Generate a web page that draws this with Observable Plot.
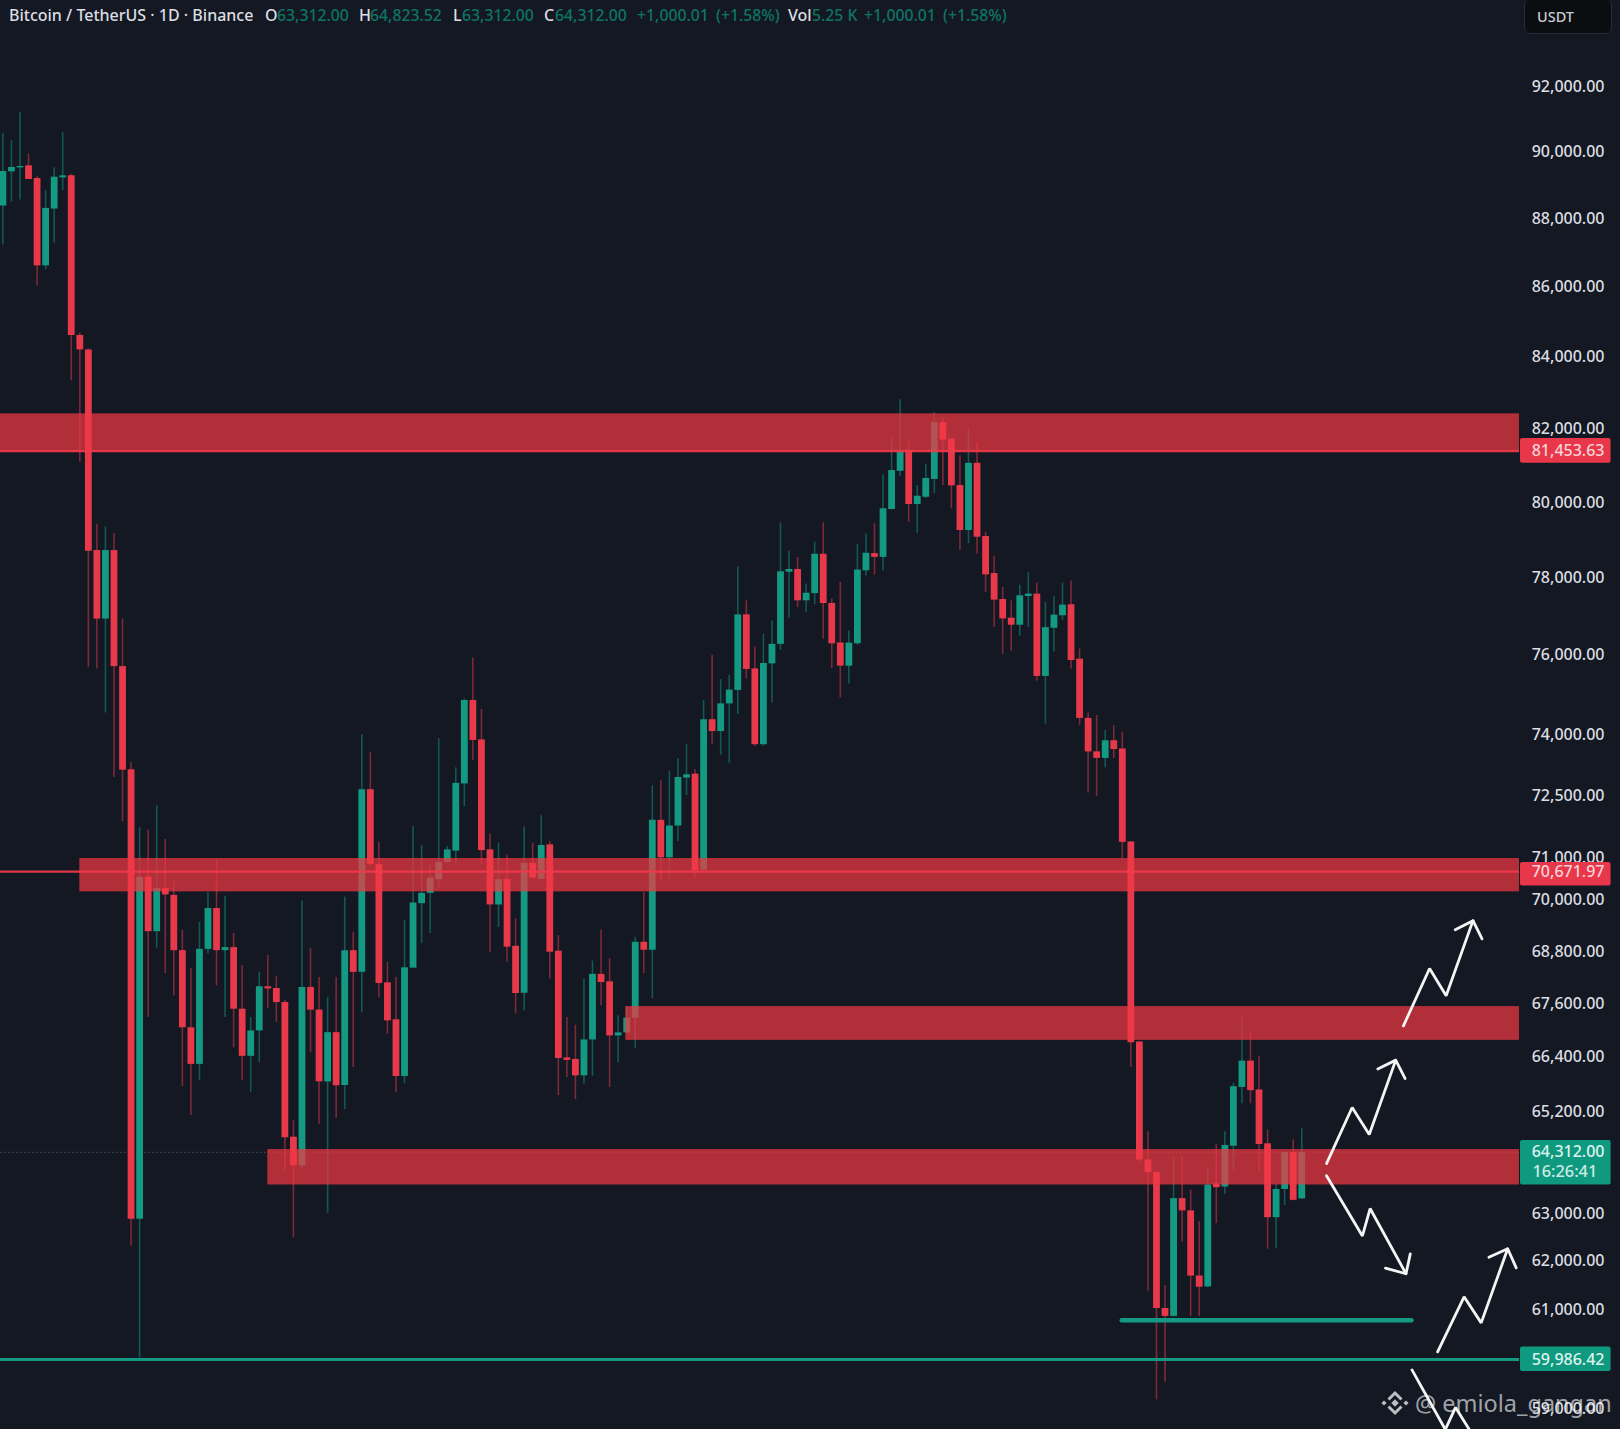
<!DOCTYPE html>
<html>
<head>
<meta charset="utf-8">
<script src="https://cdn.jsdelivr.net/npm/d3@7"></script>
<script src="https://cdn.jsdelivr.net/npm/@observablehq/plot@0.6"></script>
<style>
html,body{margin:0;padding:0;background:#131822;}
#wrap{position:relative;width:1620px;height:1429px;overflow:hidden;}
#wrap svg{display:block;}
.h{position:absolute;top:5px;font:500 16px/20px "Noto Sans",sans-serif;white-space:nowrap;color:#dcdee2;}
.v{color:#0e7466;font-size:15.8px;}
#usdt{position:absolute;left:1524px;top:-2px;width:88px;height:36px;box-sizing:border-box;background:#0c0d11;border:1px solid #262a33;border-radius:6px;color:#c9ccd3;font:500 14.5px/34px "Noto Sans",sans-serif;padding-left:12px;}
#wm{position:absolute;left:1415px;top:1386px;color:rgba(255,255,255,.62);font:400 23.5px/34px "Noto Sans",sans-serif;white-space:nowrap;}
#logo{position:absolute;left:1380px;top:1388px;}
</style>
</head>
<body>
<div id="wrap"></div>
<script>
// ---- daily candles ----
const open = [
88380,89400,89520,89580,89200,86620,88290,89220,89280,84620,
84210,78720,76930,78720,75710,73130,62880,70540,69260,70270,
70110,68820,67060,66240,68850,69800,68820,68890,67480,66420,
66990,67990,67950,67630,64640,64020,67975,67460,65850,66950,
65770,68820,68320,72645,70840,68080,67240,65970,68416,69915,
70156,70481,70890,71160,72784,74854,73870,71190,69885,70480,
68920,67840,70867,70490,71310,68807,66385,66350,65985,66786,
68274,68103,66877,66945,67277,69014,68830,71900,71000,71762,
72928,73024,70713,74372,74076,74768,75107,77038,75653,73750,
75780,76278,78150,78222,77402,77590,78622,77332,76312,75720,
76294,78187,78640,78540,79813,80845,81406,79947,80143,80623,
82176,81722,80459,79252,81062,79092,78115,77436,76952,76770,
77514,77576,75461,76692,77014,77300,75900,74405,73572,73412,
73848,73644,71376,66740,64147,63877,61026,60863,63320,63059,
61694,61470,63632,63567,64444,65730,66313,65673,64496,62915,
63515,64308,63312];
const high = [
90550,90340,91210,89940,89260,88840,89520,90580,89330,84690,
84240,79410,79340,79170,76930,73310,71720,71660,72250,71440,
70440,69290,68410,69480,70170,70950,70090,69220,68480,67290,
68320,68710,68220,67680,65000,69980,68870,68200,67750,68200,
70070,69250,74000,73550,71370,68550,68200,69520,71750,71300,
70840,73900,71270,73180,74890,75930,74630,71570,71350,71070,
69560,71740,71350,72010,71390,69170,67290,67120,68170,68580,
69300,68630,67330,67530,69130,70170,72740,72860,73100,73410,
73760,73130,74850,76000,75380,75490,78290,77400,76210,76540,
76880,79460,78700,78540,77840,78940,79460,77450,77880,76620,
78880,79160,79430,80750,81760,82810,81660,80460,81040,82450,
82310,81730,81270,82010,81630,79210,78570,77750,77400,77810,
78140,77860,77360,77510,77860,77920,76160,74540,74480,74100,
74230,74060,71390,66750,64760,63900,61500,64200,64200,63500,
62830,63960,64480,64760,65820,67290,66930,66420,64800,63630,
64312,64580,64823.52];
const low = [
87230,88500,88560,89170,86030,86500,87290,88840,83340,81090,
75680,75650,74540,72940,71870,62320,60020,67290,68880,68290,
67780,65750,65110,65880,68750,68010,67290,66610,65880,65620,
66280,67500,67180,63920,62490,63950,66500,64920,63010,65050,
65240,66170,67400,70800,67740,66920,65620,65810,69900,68980,
69220,70290,70880,70870,72230,73360,70840,68780,69360,68550,
67370,67440,70510,70480,68170,65550,65950,65460,65800,65980,
67560,65730,66280,66920,66600,68290,67720,70440,70480,71390,
72500,70520,70700,73760,73490,73290,74500,75400,73700,73710,
74790,76120,76950,77230,77100,77300,76410,75660,74920,75270,
76260,78050,78070,78180,79800,80700,79470,79180,80110,80240,
80460,79830,78720,78900,78630,77620,76710,76020,76100,76490,
76710,75340,74260,76080,76900,75650,74230,72560,72480,73180,
73410,70980,66170,64100,61380,59180,59530,60850,62400,60860,
60860,61450,62790,63410,63910,65370,65370,63910,62250,62260,
63170,63270,63312];
const close = [
89410,89530,89560,89170,86620,88310,89240,89280,84620,84210,
78700,76930,78720,75710,73120,62880,70540,69260,70270,70120,
68820,67060,66240,68850,69800,68820,68890,67480,66420,66990,
67990,67940,67630,64627,64020,67975,67458,65854,66950,65767,
68820,68320,72645,70844,68066,67216,65971,68425,69931,70156,
70518,70891,71189,72798,74854,73855,71172,69885,70480,68900,
67837,70867,70518,71295,68784,66372,66328,65985,66786,68274,
68087,66877,66945,67277,69014,68830,71902,71000,71762,72942,
73008,70690,74372,74076,74768,75115,77038,75638,73750,75790,
76278,78160,78222,77402,77600,78622,77332,76292,75722,76310,
78206,78649,78541,79832,80864,81360,79947,80170,80650,82176,
81695,80451,79252,81062,79073,78080,77420,76934,76770,77532,
77576,75461,76708,77032,77290,75866,74405,73572,73412,73848,
73630,71369,66725,64147,63877,61026,60863,63320,63059,61694,
61463,63610,63552,64461,65745,66313,65658,64481,62915,63515,
64308,63283,64312];

// ---- price axis labels ----
const priceTicks = [92000,90000,88000,86000,84000,82000,80000,78000,76000,74000,72500,71000,70000,68800,67600,66400,65200,63000,62000,61000,59000];

// ---- supply zones (bar index where each starts, price top and bottom) ----
const zoneStart  = [-0.3, 9.0, 72.9, 31.0];
const zoneTop    = [82419, 70984, 67539, 64372];
const zoneBottom = [81395, 70192, 66777, 63610];
const paneEnd = 177.48;

// ---- price lines and their tags ----
const redLevels = [81395, 70671.97];
const greenLevel = 59986.42;
const lastPrice = 64312;
const supportLevel = 60785, supportStart = 131.0, supportEnd = 164.9;
const tagPrice = [81395, 70671.97, 64312, 59986.42];
const tagTop = [81738, 70890, 64570, 60241];
const tagBottom = [81063, 70333, 63610, 59746];
const tagFill = ["#e8374a","#e8374a","#0f9a80","#0f9a80"];
const tagInk = ["#f9d3d7","#f9d3d7","#dff3ee","#dff3ee"];
const tagText = ["81,453.63","70,671.97","64,312.00","59,986.42"];
const countdown = "16:26:41", countdownPrice = 63894;

// ---- hand-drawn white arrows: [bar index], [price] ----
const arrowX = [
  [163.9,166.96,168.9,172.04],
  [154.9,157.9,159.9,163.0],
  [154.9,159.1,160.0,164.2],
  [167.9,171.0,173.0,176.1],
  [164.9,168.8,170.0,171.6]];
const arrowY = [
  [67103,68409,67784,69517],
  [64070,65287,64699,66335],
  [63807,62531,63109,61741],
  [60143,61265,60731,62262],
  [59780,58594,59030,58594]];
const headX = [
  [169.96,172.04,173.1],
  [160.9,163.0,164.1],
  [161.8,164.2,164.7],
  [173.9,176.1,177.1]];
const headY = [
  [69303,69517,69092],
  [66139,66335,65926],
  [61857,61741,62155],
  [62085,62262,61863]];

const candles = open.map((o,i)=>({i,o,h:high[i],l:low[i],c:close[i],up:close[i]>=o}));
const zones = zoneStart.map((s,i)=>({s,t:zoneTop[i],b:zoneBottom[i]}));
const tags = tagPrice.map((p,i)=>({p,t:tagTop[i],b:tagBottom[i],f:tagFill[i],k:tagInk[i],s:tagText[i]}));
const polyline = (xs,ys)=>xs.map((x,i)=>({x,y:ys[i]}));
const GREEN="#149a83", RED="#e8394b";
const axisFont="'Noto Sans',sans-serif";

const chart = Plot.plot({
  width:1620, height:1429,
  marginLeft:0, marginRight:16, marginTop:0, marginBottom:0,
  style:{background:"#131822", fontFamily:axisFont, overflow:"visible"},
  x:{domain:[-0.281,187.43], axis:null},
  y:{type:"log", domain:[58594,94697]},
  marks:[
    Plot.ruleY([lastPrice],{x1:-0.281,x2:paneEnd,stroke:"#5d8e88",strokeWidth:1,strokeDasharray:"1.5 2.5",strokeOpacity:.55}),
    Plot.ruleX(candles,{x:"i",y1:"l",y2:"h",stroke:d=>d.up?GREEN:RED,strokeWidth:1.6,strokeOpacity:.5}),
    Plot.ruleX(candles,{x:"i",y1:"o",y2:"c",stroke:d=>d.up?GREEN:RED,strokeWidth:6.8}),
    Plot.rect(zones,{x1:"s",x2:paneEnd,y1:"b",y2:"t",fill:"#f03743",fillOpacity:.72}),
    Plot.ruleY(redLevels,{x1:-0.281,x2:paneEnd,stroke:"#f23a4c",strokeWidth:2.4,strokeOpacity:.92}),
    Plot.ruleY([greenLevel],{x1:-0.281,x2:paneEnd,stroke:"#149a83",strokeWidth:3}),
    Plot.ruleY([supportLevel],{x1:supportStart,x2:supportEnd,stroke:"#149a83",strokeWidth:4.6,strokeLinecap:"round"}),
    Plot.axisY({anchor:"right",ticks:priceTicks,tickSize:0,tickPadding:0,textAnchor:"end",label:null,
      tickFormat:d=>d3.format(",.2f")(d),fill:"#dcdee2",fontSize:16,fontWeight:500}),
    Plot.rect(tags,{x1:177.6,x2:188.2,y1:"b",y2:"t",fill:"f",rx:2}),
    Plot.text(tags,{x:187.43,y:"p",text:"s",fill:"k",textAnchor:"end",fontSize:16,fontWeight:500}),
    Plot.text([countdown],{x:179,y:countdownPrice,text:d=>d,fill:"#cfeae3",textAnchor:"start",fontSize:16.3,fontWeight:500}),
    ...arrowX.map((xs,a)=>Plot.line(polyline(xs,arrowY[a]),{x:"x",y:"y",stroke:"#f4f4f4",strokeWidth:2.8,strokeLinejoin:"miter",strokeLinecap:"round"})),
    ...headX.map((xs,a)=>Plot.line(polyline(xs,headY[a]),{x:"x",y:"y",stroke:"#f4f4f4",strokeWidth:2.8,strokeLinejoin:"miter",strokeLinecap:"round"}))
  ]
});
const wrap=document.getElementById("wrap");
wrap.appendChild(chart);

// header legend, currency box and watermark sit on top of the chart
const header=[
 ["Bitcoin / TetherUS · 1D · Binance",9,""],["O",265,""],["63,312.00",277,"v"],["H",359,""],["64,823.52",370,"v"],
 ["L",453,""],["63,312.00",462,"v"],["C",544,""],["64,312.00",555,"v"],["+1,000.01",637,"v"],["(+1.58%)",716,"v"],
 ["Vol",788,""],["5.25 K",812,"v"],["+1,000.01",864,"v"],["(+1.58%)",943,"v"]];
for(const [t,l,c] of header){const s=document.createElement("span");s.className="h "+c;s.style.left=l+"px";s.textContent=t;wrap.appendChild(s);}
const u=document.createElement("div");u.id="usdt";u.textContent="USDT";wrap.appendChild(u);
const w=document.createElement("div");w.id="wm";w.textContent="@ emiola_gangan";wrap.appendChild(w);
wrap.insertAdjacentHTML("beforeend",`<svg id="logo" width="30" height="30" viewBox="0 0 30 30" fill="rgba(255,255,255,.72)" stroke="none"><path d="M8.5 11.5 15 5l6.5 6.5" fill="none" stroke="rgba(255,255,255,.72)" stroke-width="3"/><path d="M8.5 18.5 15 25l6.5-6.5" fill="none" stroke="rgba(255,255,255,.72)" stroke-width="3"/><path d="M15 11.2 18.8 15 15 18.8 11.2 15z"/><path d="M4 12.4 6.6 15 4 17.6 1.4 15z"/><path d="M26 12.4 28.6 15 26 17.6 23.4 15z"/></svg>`);
</script>
</body>
</html>
